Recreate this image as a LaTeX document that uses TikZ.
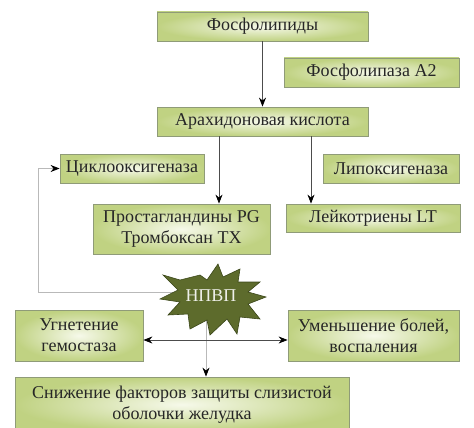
\documentclass[tikz,border=0pt]{standalone}
\usepackage{fontspec}
\setmainfont{Liberation Serif}
\usetikzlibrary{arrows.meta}
\definecolor{boxgreen}{HTML}{C0D282}
\definecolor{boxpale}{HTML}{F6F9EA}
\definecolor{boxline}{HTML}{8F9B78}
\definecolor{nsaidgreen}{HTML}{5D6B2C}
\definecolor{nsaidline}{HTML}{3A4619}
\tikzset{
  box/.style={draw=boxline, line width=0.8pt, inner color=boxpale, outer color=boxgreen,
    align=center, inner sep=0pt, font=\fontsize{18}{21}\selectfont, text=black!85},
  tip/.style={-{Stealth[length=9pt,width=7pt,black]}},
  link/.style={draw=gray!60!black, line width=0.8pt},
  back/.style={draw=gray!55, line width=0.8pt},
  burst/.style={fill=nsaidgreen, draw=nsaidline, line width=0.6pt, line join=miter},
}

\begin{document}
\begin{tikzpicture}[x=1pt, y=-1pt]
  \useasboundingbox (0,0) rectangle (474,428);
  % boxes
  \node[box, minimum width=211pt, minimum height=29pt] (phospholipids) at (262.5,26.5) {Фосфолипиды};
  \node[box, minimum width=175pt, minimum height=29pt] (pla) at (371.5,72.5) {Фосфолипаза А2};
  \node[box, minimum width=211pt, minimum height=29pt] (arachidonic) at (262.5,121.5) {Арахидоновая кислота};
  \node[box, minimum width=144pt, minimum height=29pt] (cox) at (132,168.5) {Циклооксигеназа};
  \node[box, minimum width=136pt, minimum height=29pt] (lox) at (391,168.5) {Липоксигеназа};
  \node[box, minimum width=177pt, minimum height=50pt] (prostaglandins) at (181.5,229) {Простагландины PG\\Тромбоксан ТХ};
  \node[box, minimum width=174pt, minimum height=28pt] (leukotrienes) at (373,218) {Лейкотриены LT};
  \node[box, minimum width=128pt, minimum height=51pt] (hemostasis) at (79,335.5) {Угнетение\\гемостаза};
  \node[box, minimum width=171pt, minimum height=51pt] (painrelief) at (373.5,335.5) {Уменьшение болей,\\воспаления};
  \node[box, minimum width=334pt, minimum height=55pt] (mucosa) at (182,404.5) {Снижение факторов защиты слизистой\\оболочки желудка};

  \coordinate (coxtrunk) at (219,0);
  \coordinate (loxtrunk) at (311,0);
  \coordinate (nsaid) at (213,299);
  \coordinate (feedback) at (38,292);
  \coordinate (split) at (206,340);

  % connectors
  \draw[link, tip] (phospholipids) -- (arachidonic);
  \draw[link, tip] (arachidonic.south -| coxtrunk) -- (prostaglandins.north -| coxtrunk);
  \draw[link, tip] (arachidonic.south -| loxtrunk) -- (leukotrienes.north -| loxtrunk);
  \draw[back, tip] (nsaid |- feedback) -- (feedback) |- (cox.west);
  \draw[back, tip] (split |- nsaid) -- (mucosa.north -| split);
  \draw[link, {Stealth[length=9pt,width=7pt,black]}-{Stealth[length=9pt,width=7pt,black]}]
    (hemostasis.east |- split) -- (painrelief.west |- split);

  % NSAID burst
  \filldraw[burst, shift={(nsaid)}] (-50,-24) -- (-33,-19) -- (-13,-24) -- (-6,-19) -- (5,-35)
    -- (10,-22) -- (27,-30) -- (25,-17) -- (47,-17) -- (35,-7) -- (53,-2) -- (35,5)
    -- (47,20) -- (27,18) -- (24,35) -- (14,20) -- (-3,36) -- (-6,21) -- (-23,30)
    -- (-25,15) -- (-45,16) -- (-33,3) -- (-53,0) -- (-35,-9) -- cycle;
  \node[text=white!90!nsaidgreen, font=\fontsize{18}{21}\selectfont] (nsaidlabel) at (211,296) {НПВП};
\end{tikzpicture}
\end{document}
